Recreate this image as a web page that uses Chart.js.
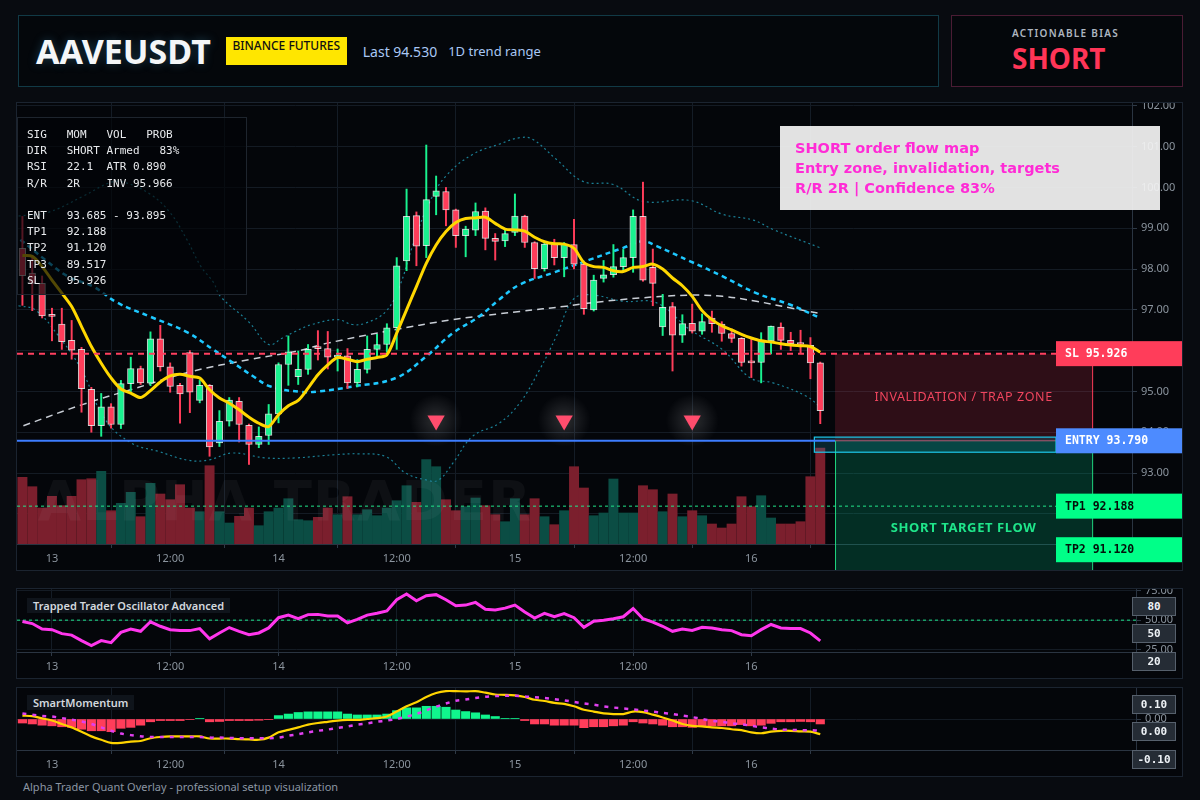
<!DOCTYPE html>
<html>
<head>
<meta charset="utf-8">
<script src="https://cdn.jsdelivr.net/npm/chart.js@4.4.1/dist/chart.umd.min.js"></script>
<style>
  body { margin:0; width:1200px; height:800px; background:#080b10; position:relative; overflow:hidden; font-family:"Noto Sans", sans-serif; }
  .abs { position:absolute; }
  .panel { position:absolute; background:#04060a; outline:1px solid #1b2430; }
  .panel canvas { position:absolute; left:0; top:0; }
  .vbox { position:absolute; width:42px; height:17px; background:#252c35; border:1px solid #56606c; color:#eef2f6;
          font:bold 11px "DejaVu Sans Mono", monospace; text-align:center; line-height:17px; }
  .ptitle { position:absolute; background:#0f141b; color:#d3d8de; font:600 11px "Noto Sans", sans-serif; padding:0 6px; height:15px; line-height:15px; }
</style>
</head>
<body>

<div class="abs" style="left:18px;top:15px;width:919px;height:70px;border:1px solid #113a46;background:#04070b;display:flex;align-items:center;">
  <span style="margin-left:17px;font:bold 34px 'Noto Sans';color:#f4f6f8;text-shadow:0 0 10px rgba(70,150,190,0.35);">AAVEUSDT</span>
  <span style="margin-left:15px;width:121px;height:28px;line-height:28px;text-align:center;background:#ffe600;color:#111;font:500 12px 'Noto Sans';">BINANCE FUTURES</span>
  <span style="margin-left:16px;color:#a9c7f5;font:14px 'Noto Sans';">Last 94.530</span>
  <span style="margin-left:11px;color:#a9c7f5;font:13px 'Noto Sans';">1D trend range</span>
</div>

<div class="abs" style="left:951px;top:15px;width:230px;height:70px;border:1px solid #4a1c34;background:#04070b;">
  <div style="position:absolute;left:60px;top:10px;font:600 10px 'Noto Sans';letter-spacing:1.3px;color:#aeb6c0;">ACTIONABLE BIAS</div>
  <div style="position:absolute;left:60px;top:24px;font:bold 28px 'Noto Sans';color:#ff3557;line-height:36px;">SHORT</div>
</div>

<div class="panel" style="left:17px;top:103px;width:1165px;height:467px;"><canvas id="main" width="1165" height="467"></canvas></div>
<div class="panel" style="left:17px;top:589px;width:1165px;height:89px;"><canvas id="osc" width="1165" height="89"></canvas></div>
<div class="panel" style="left:17px;top:688px;width:1165px;height:88px;"><canvas id="mom" width="1165" height="88"></canvas></div>

<div class="abs" style="left:17px;top:117px;width:228px;height:176px;background:rgba(2,4,8,0.68);border:1px solid #1e252e;">
<pre style="margin:0;padding:9px 0 0 9px;font:11px 'DejaVu Sans Mono', monospace;line-height:16.2px;color:#e8eaed;">SIG   MOM   VOL   PROB
DIR   SHORT Armed   83%
RSI   22.1  ATR 0.890
R/R   2R    INV 95.966

ENT   93.685 - 93.895
TP1   92.188
TP2   91.120
TP3   89.517
SL    95.926</pre>
</div>

<div class="abs" style="left:780px;top:126px;width:350px;height:60px;padding:12px 15px;background:rgba(243,243,243,0.93);color:#ff2bd6;font:bold 14.5px 'DejaVu Sans';line-height:20px;">
SHORT order flow map<br>Entry zone, invalidation, targets<br>R/R 2R | Confidence 83%
</div>

<div class="ptitle" style="left:27px;top:598px;">Trapped Trader Oscillator Advanced</div>
<div class="ptitle" style="left:27px;top:695px;">SmartMomentum</div>

<div class="vbox" style="left:1132px;top:597px;">80</div>
<div class="vbox" style="left:1132px;top:624px;">50</div>
<div class="vbox" style="left:1132px;top:652px;">20</div>
<div class="vbox" style="left:1132px;top:695px;">0.10</div>
<div class="vbox" style="left:1132px;top:722px;">0.00</div>
<div class="vbox" style="left:1132px;top:750px;">-0.10</div>

<div class="abs" style="left:23px;top:779px;font:11px 'Noto Sans';color:#8b96a3;">Alpha Trader Quant Overlay - professional setup visualization</div>

<script>
// hourly candles, index 0 = first bar
const open  = [98.51,97.90,97.65,96.86,96.65,96.25,96.03,95.05,94.16,94.62,94.19,95.19,95.56,95.20,96.29,95.60,95.15,95.95,94.78,95.15,
               93.74,94.27,94.76,94.17,93.70,93.92,94.45,95.66,95.36,95.54,96.10,96.05,95.84,95.87,95.21,95.54,96.03,96.15,96.56,98.20,
               99.31,98.57,99.78,99.90,99.45,98.82,98.95,99.42,98.75,98.69,98.90,99.30,98.65,98.01,98.61,98.28,98.60,98.12,97.00,97.77,
               97.86,98.06,98.28,99.29,98.04,96.58,97.08,96.38,96.67,96.48,96.80,96.65,96.42,96.30,95.71,95.71,96.24,96.58,96.25,96.17,
               96.13,95.70];
const high  = [99.29,98.32,97.83,97.04,97.04,96.74,96.08,95.10,94.95,94.70,95.27,95.84,95.62,96.46,96.62,95.70,95.20,96.00,95.27,95.17,
               94.53,94.85,94.85,94.20,94.13,94.68,95.70,96.36,95.99,96.15,96.49,96.47,96.04,96.05,95.78,96.36,96.40,96.66,98.28,99.96,
               99.40,101.04,100.28,100.00,99.47,99.05,99.62,99.50,98.87,99.00,99.84,99.32,98.67,98.66,98.73,98.65,99.22,98.14,97.85,98.21,
               98.60,98.48,99.45,100.13,98.49,97.38,97.18,96.88,97.14,96.90,96.97,96.71,96.53,96.32,96.32,96.44,96.60,96.68,96.45,96.50,
               96.32,95.72];
const low   = [97.11,96.98,96.80,96.24,96.03,95.79,94.49,94.00,93.90,94.10,94.09,94.97,95.17,95.14,95.50,94.98,94.22,94.48,94.72,93.41,
               93.65,94.15,93.76,93.21,93.62,93.70,94.23,95.15,95.17,95.42,95.77,95.55,95.50,95.07,95.11,95.45,95.86,95.96,96.03,97.96,
               98.08,98.28,99.33,99.06,98.53,98.30,98.82,98.47,98.22,98.55,98.82,98.53,97.77,97.95,98.10,97.81,98.00,96.89,96.97,97.68,
               97.80,97.95,97.92,97.70,97.10,96.37,95.50,96.20,96.43,96.40,96.45,96.23,96.20,95.62,95.34,95.21,95.92,96.03,96.00,95.95,
               95.31,94.21];
const close = [97.84,97.65,96.85,96.84,96.22,96.01,95.07,94.16,94.62,94.19,95.19,95.56,95.21,96.29,95.60,95.12,94.94,94.98,95.15,93.64,
               94.27,94.79,94.19,93.70,93.90,94.45,95.66,95.97,95.54,96.03,96.05,95.84,95.86,95.21,95.54,96.03,96.15,96.56,98.08,99.29,
               98.56,99.70,99.92,99.45,98.82,98.98,99.41,98.75,98.68,98.87,99.30,98.65,98.01,98.61,98.28,98.61,98.12,97.03,97.73,97.86,
               98.06,98.28,99.29,97.73,97.65,97.06,96.38,96.66,96.48,96.71,96.66,96.42,96.30,95.71,95.70,96.24,96.60,96.25,96.17,96.15,
               95.70,94.53];
// volume, thousands
const volume = [66.7,57.3,36,47.7,38.3,47.7,64.3,65.3,72.7,33.3,40.7,51.7,27.3,60.7,50,44.3,59.3,36,32.3,78.3,
                32.3,21,27.7,36,18.3,32.3,36,45.3,24.3,23.3,26.7,36,29.3,47.3,29.3,34.3,28.3,36,43.3,58.3,
                41.7,84.3,77.3,44.3,33.3,37.3,46,38.3,29.3,22.3,45.3,29.3,45.3,27.3,19.3,33.3,77.3,56,28.3,31,
                65,31,31,58.3,54.3,32.3,50,27.3,33.3,28.3,20,16,20,47.3,37.3,48.3,26,20,20,22.3,67.3,96];

// overlays
const emaFast = [98.33,98.31,98.06,97.73,97.41,97.08,96.59,96.10,95.69,95.33,95.06,94.96,94.85,95.02,95.23,95.38,95.42,95.37,95.33,95.04,
                 94.84,94.71,94.55,94.37,94.22,94.14,94.43,94.65,94.78,95.08,95.41,95.65,95.83,95.79,95.73,95.79,95.83,95.90,96.43,97.00,
                 97.57,98.14,98.59,98.92,99.14,99.24,99.25,99.27,99.12,98.98,98.96,98.93,98.78,98.67,98.62,98.61,98.51,98.16,98.06,98.04,
                 97.96,97.94,98.04,98.06,98.12,98.00,97.78,97.59,97.33,96.98,96.76,96.61,96.51,96.40,96.31,96.24,96.21,96.17,96.14,96.12,
                 96.10,95.96];
const emaSlowIdx = [-0.2,2.3,4.6,7.2,9.6,13,16.8,19.4,21.4,23.5,25.2,28.2,30.1,33.5,37.9,41,43.7,46.4,48.4,50.5,53.9,57.6,61,63,64.4,67.8,71.1,74.5,77.9,81];
const emaSlowVal = [98.72,98.23,97.82,97.57,97.18,96.83,96.44,96.02,95.70,95.36,95.12,94.99,95.00,95.12,95.33,95.86,96.43,96.84,97.25,97.62,97.91,98.23,98.52,98.68,98.56,98.19,97.82,97.41,97.13,96.80];
const smaLongIdx = [0.1,6,11.5,17.2,23,27.7,31.1,36.9,43.7,50.5,55.2,57.6,62.7,67.8,71.1,74.5,77.9,81];
const smaLongVal = [94.16,94.67,95.08,95.49,95.78,95.98,96.19,96.47,96.76,96.96,97.09,97.17,97.29,97.36,97.33,97.21,97.05,96.91];
const bandUpIdx = [-0.4,2.5,6.2,8.9,10.3,13,15,16.7,18.1,19.4,20.1,23,25,26.4,27.7,29.4,32,33.5,34.9,36.9,38.3,39.6,41.3,43,45.7,48.4,50.5,51.8,54.2,56.9,60,63,67.8,71.1,74.2,76.2,81];
const bandUpVal = [99.30,99.38,99.79,100.12,100.13,99.83,99.38,98.72,98.07,97.67,97.33,96.70,96.15,96.31,96.47,96.64,96.76,96.64,96.68,96.96,97.58,98.56,99.62,100.28,100.81,101.06,101.22,101.18,100.69,100.15,100.07,99.66,99.68,99.34,99.20,98.97,98.52];
const bandLoIdx = [-0.4,1.3,3.7,6,8.4,11.1,13.8,16.9,18.9,21.3,24.7,27.7,31.8,34.2,36.9,38.9,41,42.2,43.7,45.7,48.4,50.5,52.5,54.2,55.9,57.6,61,64.4,67.8,71.1,73.9,76.2,79.6,81.3];
const bandLoVal = [97.10,97.00,96.35,95.53,94.31,93.73,93.53,93.31,93.32,93.49,93.37,93.37,93.45,93.47,93.40,93.00,92.83,92.82,93.24,93.90,94.22,94.72,95.53,96.35,97.25,97.37,97.21,97.17,96.51,96.02,95.33,95.21,94.88,94.55];

const sigIdx = [42, 55, 68];
const sigPrice = [94.29, 94.29, 94.29];

const levelNames  = ['SL', 'ENTRY', 'TP1', 'TP2'];
const levelPrices = [95.926, 93.790, 92.188, 91.120];
const tp3 = 89.517;
const entryBox = [93.51, 93.88];
const entryBoxFrom = 80.4;
const zoneFrom = 82.5, zoneTo = 108.6;

const osc = [48.9,47.1,42.5,41.9,38.5,37.3,32.6,28.3,32.6,30.9,39.6,42.5,40.5,48.6,44.8,41.9,41.1,41.1,42.8,34.1,
             39.1,43.7,40.5,37.6,39.1,43.4,52.1,54.3,51.2,54.7,54.9,53.5,53.5,47.7,50.6,54.3,55.8,57.8,67.4,72.3,
             66.5,70.8,71.7,67.4,62.2,62.8,65.1,59.3,58.7,60.2,62.8,56.9,51.7,55.8,52.9,55.6,52.1,43.9,49.1,50,
             51.2,52.9,59.9,51.2,48.3,44.8,40.5,42.5,41.3,43.9,43.4,41.9,41.1,37.6,36.7,41.9,46.3,43.4,42.8,42.8,39.1,32.4];
const oscMid = 50;

const momHist = [-0.013,-0.016,-0.02,-0.022,-0.025,-0.027,-0.033,-0.038,-0.038,-0.041,-0.03,-0.027,-0.02,-0.009,-0.005,-0.005,-0.005,-0.002,0.001,-0.009,
                 -0.008,-0.005,-0.005,-0.005,-0.004,-0.001,0.011,0.016,0.021,0.023,0.023,0.023,0.023,0.016,0.013,0.013,0.013,0.016,0.027,0.036,
                 0.036,0.041,0.041,0.038,0.029,0.024,0.02,0.013,0.008,0.001,0.001,-0.005,-0.016,-0.016,-0.02,-0.02,-0.02,-0.028,-0.025,-0.025,
                 -0.022,-0.02,-0.009,-0.013,-0.016,-0.02,-0.025,-0.025,-0.027,-0.022,-0.022,-0.022,-0.022,-0.018,-0.022,-0.02,-0.014,-0.009,-0.009,-0.008,-0.009,-0.016];
const momLine = [0.011,0.009,0.002,-0.005,-0.016,-0.027,-0.041,-0.056,-0.067,-0.077,-0.077,-0.073,-0.071,-0.062,-0.058,-0.056,-0.056,-0.056,-0.056,-0.063,
                 -0.063,-0.063,-0.065,-0.066,-0.067,-0.06,-0.043,-0.035,-0.027,-0.018,-0.013,-0.009,-0.005,-0.003,-0.003,0,0.003,0.008,0.024,0.041,
                 0.054,0.071,0.084,0.09,0.09,0.089,0.09,0.085,0.079,0.078,0.076,0.071,0.062,0.058,0.052,0.049,0.041,0.03,0.024,0.018,
                 0.016,0.016,0.024,0.022,0.014,0.005,-0.005,-0.016,-0.022,-0.024,-0.027,-0.029,-0.033,-0.036,-0.043,-0.046,-0.041,-0.038,-0.038,-0.04,-0.041,-0.049];
const momSignal = [0.018,0.014,0.01,0.008,0.003,-0.002,-0.008,-0.016,-0.027,-0.038,-0.047,-0.052,-0.056,-0.058,-0.058,-0.058,-0.058,-0.058,-0.058,-0.06,
                   -0.06,-0.061,-0.062,-0.062,-0.062,-0.062,-0.06,-0.054,-0.049,-0.043,-0.038,-0.034,-0.029,-0.024,-0.018,-0.014,-0.009,-0.005,0,0.008,
                   0.016,0.028,0.04,0.05,0.059,0.063,0.068,0.072,0.074,0.075,0.075,0.073,0.07,0.068,0.064,0.06,0.055,0.05,0.046,0.041,
                   0.037,0.034,0.031,0.027,0.024,0.02,0.016,0.011,0.006,0,-0.006,-0.009,-0.014,-0.017,-0.022,-0.027,-0.031,-0.034,-0.035,-0.036,-0.036,-0.038];

const tickIdx = [3, 15, 26, 38, 50, 62, 74];
const tickLabels = ['13', '12:00', '14', '12:00', '15', '12:00', '16'];
const priceTicks = [92, 93, 94, 95, 96, 97, 98, 99, 100, 101, 102];

const UP = '#19f28f', DOWN = '#ff3d5a';
const xMin = -0.55, pxPerBar = 9.85;

Chart.defaults.font.family = '"Noto Sans", sans-serif';
Chart.defaults.font.size = 11;
Chart.defaults.color = '#8b949e';

const bars = open.map((_, i) => i);
const isUp = bars.map(i => close[i] >= open[i]);
const pts = (xs, ys) => xs.map((v, k) => ({ x: v, y: ys[k] }));

function xAxis(areaWidth) {
  return {
    type: 'linear', min: xMin, max: xMin + areaWidth / pxPerBar, offset: false,
    afterBuildTicks: s => { s.ticks = tickIdx.map(v => ({ value: v })); },
    afterFit: s => { s.height = 26; s.paddingLeft = 0; s.paddingRight = 0; },
    ticks: { autoSkip: false, maxRotation: 0, padding: 4, color: '#8b949e', callback: (v, i) => tickLabels[i] },
    grid: { color: '#141c26', tickLength: 4, tickColor: '#2e3946' },
    border: { display: true, color: '#2a3441' }
  };
}
function yAxis(min, max, ticks, width, fmt) {
  return {
    position: 'right', min: min, max: max,
    afterBuildTicks: s => { s.ticks = ticks.map(v => ({ value: v })); },
    afterFit: s => { s.width = width; s.paddingTop = 0; s.paddingBottom = 0; },
    ticks: { padding: 4, color: '#8b949e', callback: fmt },
    grid: { color: '#141b24', tickLength: 5, tickColor: '#2e3946' },
    border: { display: true, color: '#2a3441' }
  };
}
const baseOpts = { responsive: false, animation: false, events: [], layout: { padding: 0, autoPadding: false },
                   plugins: { legend: { display: false }, tooltip: { enabled: false } } };

function tag(ctx, left, right, yPx, bg, fg, text) {
  ctx.fillStyle = bg;
  ctx.fillRect(left, yPx - 12.5, right - left, 25);
  ctx.fillStyle = fg;
  ctx.font = 'bold 11.5px "DejaVu Sans Mono", monospace';
  ctx.textAlign = 'left';
  ctx.textBaseline = 'middle';
  ctx.fillText(text, left + 9, yPx + 0.5);
}

const mainOverlay = {
  id: 'mainOverlay',
  beforeDatasetsDraw(chart) {
    const { ctx, scales: { x, y } } = chart;
    ctx.save();
    sigIdx.forEach((v, k) => {
      const px = x.getPixelForValue(v), py = y.getPixelForValue(sigPrice[k]);
      const g = ctx.createRadialGradient(px, py, 0, px, py, 27);
      g.addColorStop(0, 'rgba(255,255,255,0.16)');
      g.addColorStop(1, 'rgba(255,255,255,0)');
      ctx.fillStyle = g;
      ctx.fillRect(px - 27, py - 27, 54, 54);
    });
    ctx.restore();
  },
  afterDatasetsDraw(chart) {
    const { ctx, chartArea: a, scales: { x, y } } = chart;
    const tagL = a.right - 76, tagR = chart.width;
    const zL = x.getPixelForValue(zoneFrom), zR = x.getPixelForValue(zoneTo);
    const [ySL, yEn, yT1, yT2] = levelPrices.map(p => y.getPixelForValue(p));
    const yT3 = y.getPixelForValue(tp3);
    ctx.save();

    // watermark
    ctx.font = 'bold 56px "DejaVu Sans", sans-serif';
    ctx.letterSpacing = '1px';
    ctx.fillStyle = 'rgba(255,255,255,0.045)';
    ctx.textAlign = 'center';
    ctx.textBaseline = 'middle';
    ctx.fillText('ALPHA TRADER', 268, 402);
    ctx.letterSpacing = '0px';

    // zones
    ctx.fillStyle = 'rgba(255,61,90,0.17)';
    ctx.fillRect(zL, ySL, zR - zL, yEn - ySL);
    ctx.fillStyle = 'rgba(0,190,130,0.22)';
    ctx.fillRect(zL, yEn, zR - zL, yT3 - yEn);
    ctx.lineWidth = 1;
    ctx.strokeStyle = 'rgba(255,90,115,0.75)';
    ctx.beginPath(); ctx.moveTo(zL, yEn); ctx.lineTo(tagL, yEn); ctx.stroke();
    ctx.strokeStyle = '#ff3d5a';
    ctx.beginPath(); ctx.moveTo(zR + 0.5, ySL + 12); ctx.lineTo(zR + 0.5, yEn - 12); ctx.stroke();
    ctx.strokeStyle = '#1fd67f';
    ctx.beginPath(); ctx.moveTo(zR + 0.5, yEn + 12); ctx.lineTo(zR + 0.5, yT3); ctx.stroke();
    ctx.beginPath(); ctx.moveTo(zL + 0.5, yEn); ctx.lineTo(zL + 0.5, yT3); ctx.stroke();

    // entry box
    const eT = y.getPixelForValue(entryBox[1]), eB = y.getPixelForValue(entryBox[0]);
    const eL = x.getPixelForValue(entryBoxFrom);
    ctx.fillStyle = 'rgba(30,200,235,0.16)';
    ctx.fillRect(eL, eT, tagL - eL, eB - eT);
    ctx.strokeStyle = '#1ec8ea';
    ctx.lineWidth = 1.2;
    ctx.strokeRect(eL, eT, tagL - eL, eB - eT);

    // level lines
    ctx.lineWidth = 2;
    ctx.strokeStyle = '#ff4060';
    ctx.setLineDash([6, 5]);
    ctx.beginPath(); ctx.moveTo(a.left, ySL); ctx.lineTo(tagL, ySL); ctx.stroke();
    ctx.setLineDash([]);
    ctx.strokeStyle = '#3d7dff';
    ctx.beginPath(); ctx.moveTo(a.left, yEn); ctx.lineTo(zL, yEn); ctx.stroke();
    ctx.lineWidth = 1;
    ctx.strokeStyle = '#22e58a';
    ctx.setLineDash([3, 3]);
    ctx.beginPath(); ctx.moveTo(a.left, yT1); ctx.lineTo(tagL, yT1); ctx.stroke();
    ctx.setLineDash([]);

    // zone captions
    const zc = (zL + zR) / 2;
    ctx.textAlign = 'center';
    ctx.textBaseline = 'middle';
    ctx.letterSpacing = '0.6px';
    ctx.font = '12.5px "Noto Sans", sans-serif';
    ctx.fillStyle = '#f0455f';
    ctx.fillText('INVALIDATION / TRAP ZONE', zc, (ySL + yEn) / 2);
    ctx.font = 'bold 13px "Noto Sans", sans-serif';
    ctx.fillStyle = '#1fe58a';
    ctx.fillText('SHORT TARGET FLOW', zc, (yT1 + yT2) / 2);
    ctx.letterSpacing = '0px';

    // price tags
    const bgs = ['#ff3d5a', '#4d8bff', '#00ff88', '#00ff88'];
    const fgs = ['#ffffff', '#ffffff', '#04110a', '#04110a'];
    [ySL, yEn, yT1, yT2].forEach((yy, k) => {
      tag(ctx, tagL, tagR, yy, bgs[k], fgs[k], levelNames[k] + ' ' + levelPrices[k].toFixed(3));
    });
    ctx.restore();
  }
};

new Chart(document.getElementById('main'), {
  type: 'line',
  data: {
    datasets: [
      { type: 'bar', label: 'volume', yAxisID: 'vol', grouped: false, order: 20, barThickness: 9.3,
        data: pts(bars, volume), backgroundColor: bars.map(i => isUp[i] ? '#0b4d44' : '#7b1f2d') },
      { label: 'band upper', data: pts(bandUpIdx, bandUpVal), borderColor: '#1b7f95', borderWidth: 1.2,
        borderDash: [2, 3], pointRadius: 0, tension: 0.4, order: 15 },
      { label: 'band lower', data: pts(bandLoIdx, bandLoVal), borderColor: '#1b7f95', borderWidth: 1.2,
        borderDash: [2, 3], pointRadius: 0, tension: 0.4, order: 15 },
      { label: 'long ma', data: pts(smaLongIdx, smaLongVal), borderColor: '#c9ced6', borderWidth: 1.5,
        borderDash: [7, 5], pointRadius: 0, tension: 0.4, order: 14 },
      { label: 'slow ema', data: pts(emaSlowIdx, emaSlowVal), borderColor: '#1ec8ff', borderWidth: 2.5,
        borderDash: [5, 4], pointRadius: 0, tension: 0.4, order: 13 },
      { type: 'bar', label: 'wick', grouped: false, order: 6, barThickness: 1.3,
        data: bars.map(i => ({ x: i, y: [low[i], high[i]] })), backgroundColor: bars.map(i => isUp[i] ? UP : DOWN) },
      { type: 'bar', label: 'body', grouped: false, order: 5, barThickness: 6.6, minBarLength: 2,
        data: bars.map(i => ({ x: i, y: [open[i], close[i]] })), backgroundColor: bars.map(i => isUp[i] ? UP : DOWN),
        borderColor: 'rgba(255,255,255,0.8)', borderWidth: 1, borderSkipped: false },
      { label: 'fast ema', data: pts(bars, emaFast), borderColor: '#ffd700', borderWidth: 3,
        pointRadius: 0, tension: 0.3, order: 3 },
      { label: 'signals', data: pts(sigIdx, sigPrice), showLine: false, pointStyle: 'triangle', pointRotation: 180,
        pointRadius: 10, pointBackgroundColor: '#ff4d6d', pointBorderColor: '#ff4d6d', pointBorderWidth: 0, order: 1 }
    ]
  },
  options: Object.assign({}, baseOpts, {
    scales: {
      x: xAxis(1115),
      y: yAxis(91.26, 102.07, priceTicks, 50, v => v.toFixed(2)),
      vol: { display: false, min: 0, max: 441 }
    }
  }),
  plugins: [mainOverlay]
});

const oscOverlay = {
  id: 'oscOverlay',
  beforeDatasetsDraw(chart) {
    const { ctx, chartArea: a, scales: { y } } = chart;
    const yy = y.getPixelForValue(oscMid);
    ctx.save();
    ctx.strokeStyle = '#1de68c';
    ctx.lineWidth = 1;
    ctx.setLineDash([3, 3]);
    ctx.beginPath(); ctx.moveTo(a.left, yy); ctx.lineTo(a.right, yy); ctx.stroke();
    ctx.restore();
  }
};

new Chart(document.getElementById('osc'), {
  type: 'line',
  data: { datasets: [
    { label: 'TTO', data: pts(bars, osc), borderColor: '#ff36ec', borderWidth: 3, pointRadius: 0, tension: 0 }
  ] },
  options: Object.assign({}, baseOpts, {
    scales: { x: xAxis(1119), y: yAxis(22.9, 76.5, [25, 50, 75], 46, v => v.toFixed(2)) }
  }),
  plugins: [oscOverlay]
});

new Chart(document.getElementById('mom'), {
  type: 'line',
  data: { datasets: [
    { type: 'bar', label: 'hist', grouped: false, barThickness: 8.5, order: 5,
      data: pts(bars, momHist), backgroundColor: momHist.map(v => v >= 0 ? '#10f58d' : '#ff3d5a') },
    { label: 'momentum', data: pts(bars, momLine), borderColor: '#ffd400', borderWidth: 2.2, pointRadius: 0, tension: 0.3, order: 2 },
    { label: 'signal', data: pts(bars, momSignal), borderColor: '#e040f0', borderWidth: 2.5, borderDash: [4, 6],
      pointRadius: 0, tension: 0.3, order: 1 }
  ] },
  options: Object.assign({}, baseOpts, {
    scales: { x: xAxis(1119), y: yAxis(-0.1, 0.1, [0], 46, v => v.toFixed(2)) }
  })
});
</script>
</body>
</html>
